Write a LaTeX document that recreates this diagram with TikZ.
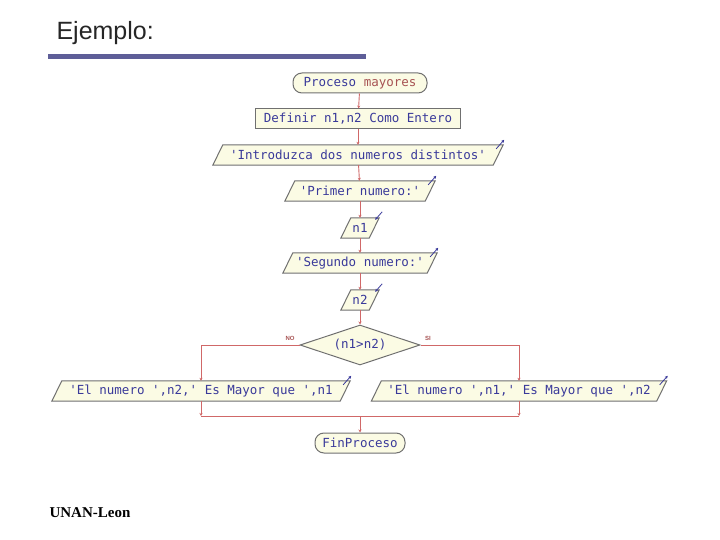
\documentclass[tikz,border=0pt]{standalone}
\usepackage{fontspec}
\setmainfont{Liberation Serif}
\setsansfont{Liberation Sans}
\newfontfamily\fc{DejaVu Sans Mono}
\usetikzlibrary{shapes.geometric,arrows.meta,calc}
\definecolor{bx}{HTML}{FBFBE4}
\definecolor{bd}{HTML}{707070}
\definecolor{tx}{HTML}{3A3A9A}
\definecolor{ln}{HTML}{D06868}
\definecolor{bar}{HTML}{5E5E98}
\begin{document}
\begin{tikzpicture}[x=1pt,y=-1pt,
  box/.style={draw=bd,fill=bx,line width=1pt,minimum height=20pt,inner sep=2pt,font=\fc\fontsize{12.5}{14}\selectfont,text=tx},
  term/.style={box,rounded corners=9pt},
  io/.style={font=\fc\fontsize{12.5}{14}\selectfont,text=tx,minimum height=20pt,inner sep=0pt},
  flow/.style={draw=ln,line width=0.9pt,-{Stealth[length=3pt,width=3pt]}},
  fl/.style={draw=ln,line width=0.9pt},
  mk/.style={draw=tx,line width=0.8pt,-{Stealth[length=3pt,width=3pt]}}]
\useasboundingbox (0,0) rectangle (720,540);
\newcommand\paral[4]{%
  \node[io,minimum width=#3] (#1) at (#2) {#4};
  \draw[draw=bd,fill=bx,line width=1pt] ($(#1.south west)+(-5,0)$) -- ($(#1.north west)+(5,0)$) -- ($(#1.north east)+(5,0)$) -- ($(#1.south east)+(-5,0)$) -- cycle;
  \node[io,minimum width=#3] at (#2) {#4};}
\node[anchor=west,font=\sffamily\fontsize{25}{28}\selectfont,text=black!85] (title) at (53,33) {Ejemplo:};
\draw[bar,line width=5pt] (48,57) -- (366,57);
\node[term,minimum width=134pt] (p) at (360,83) {Proceso \textcolor{ln!80!black}{mayores}};
\node[box,minimum width=205pt] (d) at (358,119) {Definir n1,n2 Como Entero};
\paral{i}{358,155}{280pt}{'Introduzca dos numeros distintos'}
\paral{pr}{360,191}{140pt}{'Primer numero:'}
\paral{a}{360,228}{28pt}{n1}
\paral{s}{360,263}{144pt}{'Segundo numero:'}
\paral{b}{360,300}{28pt}{n2}
\node[diamond,draw=bd,fill=bx,line width=1pt,aspect=3,minimum width=120pt,minimum height=40pt,inner sep=0pt,font=\fc\fontsize{12.5}{14}\selectfont,text=tx] (c) at (360,345) {(n1>n2)};
\paral{l}{201,391}{288pt}{'El numero ',n2,' Es Mayor que ',n1}
\paral{r}{519,391}{285pt}{'El numero ',n1,' Es Mayor que ',n2}
\node[term,minimum width=90pt] (f) at (360,443) {FinProceso};
\coordinate (m) at (360,416);
\coordinate (ml) at (201,416);
\coordinate (mr) at (519,416);
\foreach \n in {i,pr,s,l,r}{\draw[mk] ($(\n.north east)+(-2,4)$) -- ($(\n.north east)+(6,-5)$);}
\foreach \n in {a,b}{\draw[mk] ($(\n.north east)+(8,-6)$) -- ($(\n.north east)+(1,2)$);}
\draw[flow] (p) -- (d);
\draw[flow] (d) -- (i);
\draw[flow] (i) -- (pr);
\draw[flow] (pr) -- (a);
\draw[flow] (a) -- (s);
\draw[flow] (s) -- (b);
\draw[flow] (b) -- (c);
\draw[flow] (c.west) -| (l.north);
\draw[flow] (c.east) -| (r.north);
\draw[flow] (l.south) -- (ml);
\draw[flow] (r.south) -- (mr);
\draw[fl] (ml) -- (mr);
\draw[flow] (m) -- (f);
\node[font=\sffamily\fontsize{6}{7}\selectfont\bfseries,text=ln!80!black] (no) at (290,338) {NO};
\node[font=\sffamily\fontsize{6}{7}\selectfont\bfseries,text=ln!80!black] (si) at (428,338) {SI};
\node[anchor=west,font=\bfseries\fontsize{15}{17}\selectfont] (u) at (46,513) {UNAN-Leon};
\end{tikzpicture}
\end{document}
